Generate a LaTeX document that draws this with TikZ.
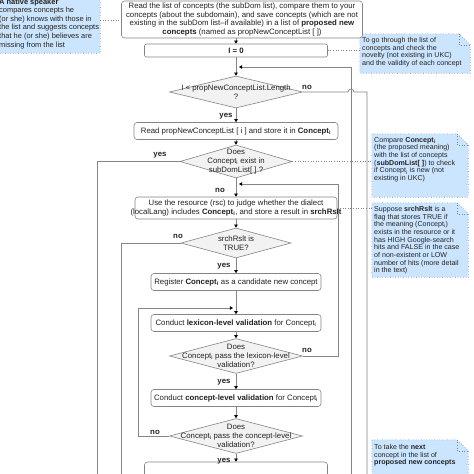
\documentclass[tikz,border=0pt]{standalone}
\usepackage{fontspec}
\setmainfont{Liberation Sans}
\usetikzlibrary{arrows.meta,shapes.geometric,calc}
\definecolor{notefill}{HTML}{CCE5FF}
\definecolor{notedraw}{HTML}{6F86A3}
\definecolor{linec}{HTML}{858585}
\definecolor{diafill}{HTML}{F2F2F2}
\definecolor{txt}{HTML}{222222}
\newcommand{\mknote}[5]{%
  \node[inner sep=0pt, minimum width={#4-#2}, minimum height={#5-#3}] (#1) at ({(#2+#4)/2},{(#3+#5)/2}) {};
  \filldraw[fill=notefill, draw=notedraw, dotted, line width=0.6pt]
    (#1.north west) -- ([xshift=-11pt]#1.north east) -- ([yshift=-11pt]#1.north east)
    -- (#1.south east) -- (#1.south west) -- cycle;
  \draw[draw=notedraw, dotted, line width=0.6pt]
    ([xshift=-11pt]#1.north east) -- ([xshift=-11pt,yshift=-11pt]#1.north east) -- ([yshift=-11pt]#1.north east);
}
\begin{document}
\begin{tikzpicture}[x=1pt,y=-1pt,
  flw/.style={draw=linec, line width=0.7pt},
  arr/.style={flw, -{Triangle[length=3.2pt,width=3.6pt,color=black]}},
  box/.style={draw=linec, fill=white, rounded corners=3pt, line width=0.6pt, inner sep=0pt},
  dia/.style={diamond, draw=linec, fill=diafill, line width=0.6pt, inner sep=0pt},
  lbl/.style={font=\fontsize{7.8}{8.7}\selectfont\bfseries, text=txt, inner sep=0pt},
  tx/.style={font=\fontsize{7.8}{8.7}\selectfont, text=txt, align=center, inner sep=0pt},
  ntx/.style={font=\fontsize{7.1}{7.7}\selectfont, text=txt, align=left, anchor=north west, inner sep=0pt},
  dot/.style={draw=notedraw, dotted, line width=0.6pt},
]
\useasboundingbox (0,0) rectangle (474,474);
\clip (0,0) rectangle (474,474);
\def\C{236}
% notes
\mknote{n1}{-12}{-14}{100}{53}
\node[ntx, font=\fontsize{7.45}{8.6}\selectfont] at (-1,-1.5) {\textbf{A native speaker}\\compares concepts he\\(or she) knows with those in\\the list and suggests concepts\\that he (or she) believes are\\missing from the list};
\mknote{n2}{360}{34}{470}{73}
\node[ntx] at (362,37) {To go through the list of\\concepts and check the\\novelty (not existing in UKC)\\and the validity of each concept};
\mknote{n3}{372}{134}{468}{197}
\node[ntx] at (374,137) {Compare \textbf{Concept\textsubscript{i}}\\(the proposed meaning)\\with the list of concepts\\(\textbf{subDomList[ ]}) to check\\if Concept\textsubscript{i} is new (not\\existing in UKC)};
\mknote{n4}{372}{203}{468}{277}
\node[ntx] at (374,206) {Suppose \textbf{srchRslt} is a\\flag that stores TRUE if\\the meaning (Concept\textsubscript{i})\\exists in the resource or it\\has HIGH Google-search\\hits and FALSE in the case\\of non-existent or LOW\\number of hits (more detail\\in the text)};
\mknote{n5}{372}{440}{468}{490}
\node[ntx] at (374,444) {To take the \textbf{next}\\concept in the list of\\\textbf{proposed new concepts}};
% flow nodes
\node[box, minimum width=241, minimum height=37] (top) at (242,19.5) {};
\node[tx] at (top) {Read the list of concepts (the subDom list), compare them to your\\concepts (about the subdomain), and save concepts (which are not\\existing in the subDom list--if available) in a list of \textbf{proposed new}\\\textbf{concepts} (named as propNewConceptList [ ])};
\node[box, rounded corners=2pt, minimum width=183, minimum height=13] (i0) at (\C,50.5) {};
\node[tx] at (i0) {\textbf{I = 0}};
\coordinate (m1) at (\C,67);
\node[dia, minimum width=133, minimum height=32] (d1) at (\C,92) {};
\node[tx] at (d1) {I {\textless} propNewConceptList.Length\\?};
\node[box, minimum width=204, minimum height=17] (read) at (\C,131) {};
\node[tx] at (read) {Read propNewConceptList [ i ] and store it in \textbf{Concept\textsubscript{i}}};
\node[dia, minimum width=112, minimum height=33] (d2) at (\C,161.5) {};
\node[tx] at (d2) {Does\\Concept\textsubscript{i} exist in\\subDomList[ ] ?};
\coordinate (m2) at (\C,184);
\node[box, minimum width=202, minimum height=22] (use) at (\C,208) {};
\node[tx] at (use) {Use the resource (rsc) to judge whether the dialect\\(localLang) includes \textbf{Concept\textsubscript{i}}, and store a result in \textbf{srchRslt}};
\node[dia, minimum width=110, minimum height=30] (d3) at (\C,243) {};
\node[tx] at (d3) {srchRslt is\\TRUE?};
\node[box, minimum width=170, minimum height=17] (reg) at (\C,282) {};
\node[tx] at (reg) {Register \textbf{Concept\textsubscript{i}} as a candidate new concept};
\coordinate (m3) at (\C,308);
\node[box, minimum width=170, minimum height=17] (lex) at (\C,323) {};
\node[tx] at (lex) {Conduct \textbf{lexicon-level validation} for Concept\textsubscript{i}};
\node[dia, minimum width=133, minimum height=35] (d4) at (\C,356) {};
\node[tx] at (d4) {Does\\Concept\textsubscript{i} pass the lexicon-level\\validation?};
\node[box, minimum width=170, minimum height=17] (con) at (\C,398) {};
\node[tx] at (con) {Conduct \textbf{concept-level validation} for Concept\textsubscript{i}};
\node[dia, minimum width=133, minimum height=35] (d5) at (\C,436) {};
\node[tx] at (d5) {Does\\Concept\textsubscript{i} pass the concept-level\\validation?};
\node[box, minimum width=183, minimum height=20] (nxt) at (\C,472) {};
% free ends
\coordinate (e1) at (97,480);
\coordinate (e2) at (121,480);
\coordinate (e3) at (351,480);
\coordinate (e4) at (367,480);
% dotted links
\draw[dot] (n1.east |- 0,20) -- (top.west |- 0,20);
\draw[dot] (i0.east) -- (i0.east -| n2.west);
\draw[dot] (d2.east) -- (d2.east -| n3.west);
\draw[dot] (use.east) -- (use.east -| n4.west);
% main flow
\draw[arr] (i0.north |- top.south) -- (i0.north);
\draw[arr] (i0.south) -- (d1.north);
\draw[arr] (d1.south) -- (read.north);
\draw[arr] (read.south) -- (d2.north);
\draw[arr] (d2.south) -- (use.north);
\draw[arr] (use.south) -- (d3.north);
\draw[arr] (d3.south) -- (reg.north);
\draw[arr] (reg.south) -- (lex.north);
\draw[arr] (lex.south) -- (d4.north);
\draw[arr] (d4.south) -- (con.north);
\draw[arr] (con.south) -- (d5.north);
\draw[arr] (d5.south) -- (nxt.north);
% loops
\draw[arr] (e3) -- (e3 |- m1) -- ([xshift=3pt]m1);
\draw[flw] (d1.east) -- (348,92) arc (180:360:3) -- (367,92) -- (e4);
\draw[flw] (d2.west) -- (d2.west -| e1) -- (e1);
\draw[flw] (d3.west) -- (d3.west -| e2) -- (e2);
\draw[arr] (d4.east) -- (338,356) -- (338,184) -- ([xshift=3pt]m2);
\draw[arr] (d5.west) -- (138,436) -- (138,308) -- ([xshift=-3pt]m3);
% labels
\node[lbl] at (307,87) {no};
\node[lbl] at (226,116) {yes};
\node[lbl] at (160,155.5) {yes};
\node[lbl] at (220,190) {no};
\node[lbl] at (178,236) {no};
\node[lbl] at (224,266) {yes};
\node[lbl] at (307,350) {no};
\node[lbl] at (224,382) {yes};
\node[lbl] at (155,432) {no};
\node[lbl] at (224,461) {yes};
\end{tikzpicture}
\end{document}
